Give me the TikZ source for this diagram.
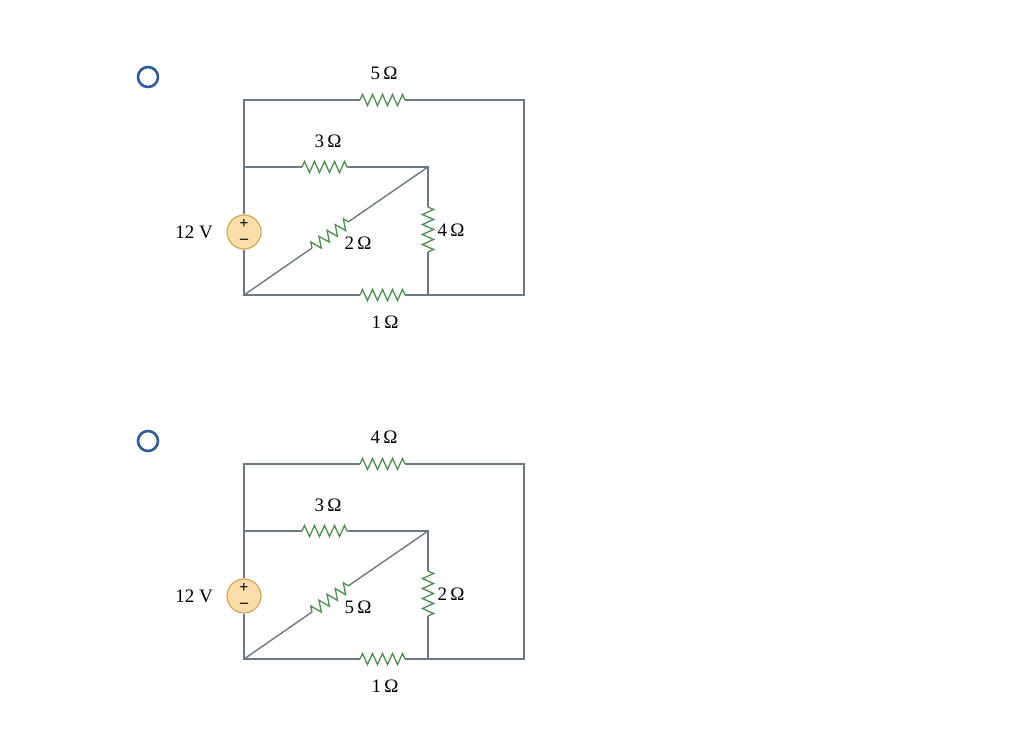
\documentclass[tikz,border=0pt]{standalone}
\usepackage{fontspec}
\setmainfont{Liberation Serif}
\usetikzlibrary{decorations.pathmorphing}
\definecolor{wire}{RGB}{110,120,130}
\definecolor{res}{RGB}{80,140,80}
\definecolor{srcfill}{RGB}{250,222,170}
\definecolor{srcdraw}{RGB}{215,165,90}
\definecolor{opt}{RGB}{50,90,150}
\tikzset{
  w/.style={draw=wire,line width=1.4pt},
  r/.style={draw=res,line width=1.3pt,decorate,decoration={zigzag,segment length=10pt,amplitude=5.5pt}},
  lbl/.style={font=\fontsize{19}{21}\selectfont,inner sep=0pt},
  src/.style={circle,fill=srcfill,draw=srcdraw,line width=1.2pt,minimum size=34pt,inner sep=0pt},
  pm/.style={font=\fontsize{16}{16}\selectfont\bfseries,inner sep=0pt},
  opt/.style={circle,draw=opt,line width=2.6pt,minimum size=20pt,inner sep=0pt}
}
\newcommand\mycircuit[7]{%
\begin{scope}[yshift=#1]
\coordinate (#2TL) at (244,100); \coordinate (#2TR) at (524,100);
\coordinate (#2ML) at (244,167); \coordinate (#2MR) at (428,167);
\coordinate (#2BL) at (244,295); \coordinate (#2BR) at (524,295);
\coordinate (#2BM) at (428,295);
\coordinate (#2a1) at (360,100); \coordinate (#2a2) at (405,100);
\coordinate (#2b1) at (302,167); \coordinate (#2b2) at (348,167);
\coordinate (#2c1) at (428,207); \coordinate (#2c2) at (428,252);
\coordinate (#2d1) at (405,295); \coordinate (#2d2) at (360,295);
\coordinate (#2e1) at (312,248); \coordinate (#2e2) at (351,220);
\node[opt] (#2o) at (148,77) {};
\node[src] (#2s) at (244,232) {};
\node[pm] (#2p) at (244,223.5) {+};
\node[pm] (#2m) at (244,241.5) {–};
\draw[w] (#2s.north) -- (#2TL) -- (#2a1);
\draw[w] (#2a2) -- (#2TR) -- (#2BR) -- (#2BM) -- (#2d1);
\draw[w] (#2d2) -- (#2BL) -- (#2s.south);
\draw[w] (#2ML) -- (#2b1);
\draw[w] (#2b2) -- (#2MR) -- (#2c1);
\draw[w] (#2c2) -- (#2BM);
\draw[w] (#2BL) -- (#2e1);
\draw[w] (#2e2) -- (#2MR);
\draw[r] (#2a1) -- (#2a2);
\draw[r] (#2b1) -- (#2b2);
\draw[r] (#2c1) -- (#2c2);
\draw[r] (#2d2) -- (#2d1);
\draw[r] (#2e1) -- (#2e2);
\node[lbl] (#2l1) at (384,73) {#3\,Ω};
\node[lbl] (#2l2) at (328,141) {3\,Ω};
\node[lbl] (#2l3) at (358,243) {#5\,Ω};
\node[lbl] (#2l4) at (451,230) {#6\,Ω};
\node[lbl] (#2l5) at (385,322) {1\,Ω};
\node[lbl] (#2l6) at (194,232) {12 V};
\end{scope}}
\begin{document}
\begin{tikzpicture}[x=1pt,y=-1pt]
\useasboundingbox (0,0) rectangle (1024,749);
\mycircuit{0pt}{A}{5}{3}{2}{4}{}
\mycircuit{-364pt}{B}{4}{3}{5}{2}{}
\end{tikzpicture}
\end{document}
